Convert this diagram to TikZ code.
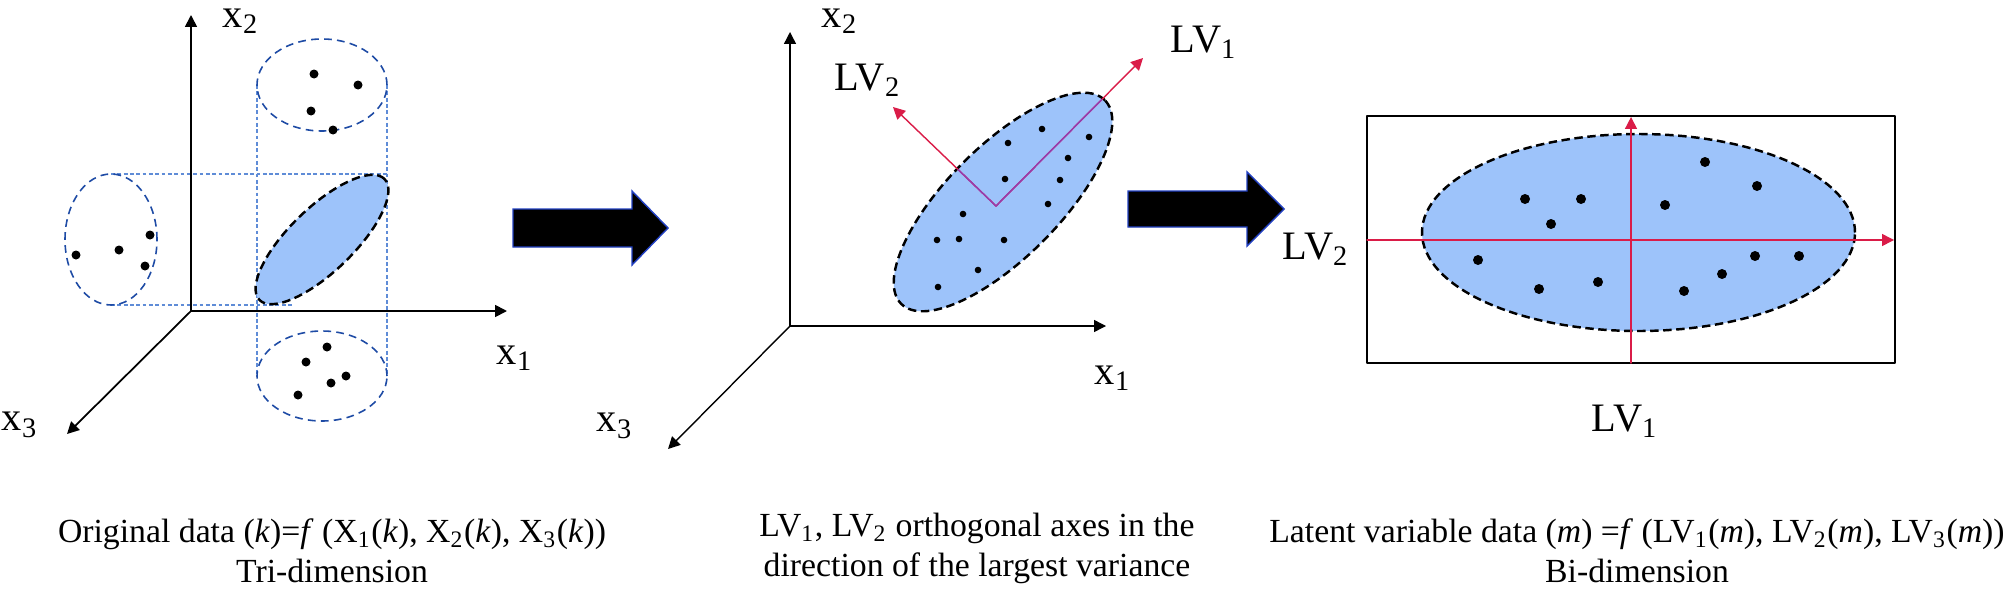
\documentclass[tikz,border=0pt]{standalone}
\usepackage{fontspec}
\setmainfont{Liberation Serif}
\usetikzlibrary{arrows.meta}

\definecolor{cloudblue}{RGB}{157,195,250}
\definecolor{shadeblue}{RGB}{30,75,165}
\definecolor{projblue}{RGB}{95,140,215}
\definecolor{lvred}{RGB}{218,28,72}
\definecolor{lvpurple}{RGB}{150,60,175}
\definecolor{edgeblue}{RGB}{35,65,195}

\begin{document}
\begin{tikzpicture}[
		x=0.1mm, y=-0.1mm,
		>={Triangle[length=3.4pt,width=3.4pt]},
		line cap=round,
		line join=round,
		axis/.style={->,line width=0.5pt},
		cloud/.style={fill=cloudblue,draw=black,line width=0.7pt,line cap=butt,dash pattern=on 2.4pt off 1.3pt},
		shade/.style={draw=shadeblue,line width=0.45pt,line cap=butt,dash pattern=on 2.2pt off 1.5pt},
		proj/.style={draw=projblue,line width=0.3pt,line cap=butt,dash pattern=on 1.1pt off 0.7pt},
		lv/.style={->,lvred,line width=0.4pt},
		lbl/.style={font=\fontsize{11.5}{13}\selectfont,inner sep=0pt},
		captext/.style={font=\fontsize{9.6}{11.4}\selectfont,align=center,inner sep=0pt},
		bigarrow/.style={fill=black,draw=edgeblue,line width=0.4pt,line join=miter}
		]
		\path[use as bounding box,fill=white] (0,0) rectangle (2008,594);

		% original data, three axes
		\coordinate (o1) at (191,311);
		\coordinate (o1x1) at (507,311);
		\coordinate (o1x2) at (191,15);
		\coordinate (o1x3) at (67,434);
		\draw[proj] (111,174) -- (387,174);
		\draw[proj] (111,305) -- (292,305);
		\draw[proj] (257,85) -- (257,376);
		\draw[proj] (387,85) -- (387,376);
		\draw[shade] (322,85) ellipse [x radius=6.5mm, y radius=4.6mm];
		\draw[shade] (111,239.5) ellipse [x radius=4.6mm, y radius=6.55mm];
		\draw[shade] (322,376) ellipse [x radius=6.5mm, y radius=4.5mm];
		\draw[cloud,rotate around={44:(322,239.5)}] (322,239.5) ellipse [x radius=8.7mm, y radius=3.2mm];
		\foreach \p in {(314,74),(358,85),(311,111),(333,130),(76,255),(119,250),(150,235),(145,266),(327,347),(306,362),(346,376),(331,383),(298,395)}
			\fill \p circle [radius=0.45mm];
		\draw[axis] (o1) -- (o1x1);
		\draw[axis] (o1) -- (o1x2);
		\draw[axis] (o1) -- (o1x3);
		\node[lbl] (lx1a) at (515,358) {x\textsubscript{1}};
		\node[lbl] (lx2a) at (241,21) {x\textsubscript{2}};
		\node[lbl] (lx3a) at (20,425) {x\textsubscript{3}};

		% first big arrow
		\draw[bigarrow] (513,209) -- (632,209) -- (632,191) -- (668,228) -- (632,265) -- (632,247) -- (513,247) -- cycle;

		% latent axes inside the cloud
		\coordinate (o2) at (790,326);
		\coordinate (o2x1) at (1106,326);
		\coordinate (o2x2) at (790,32);
		\coordinate (o2x3) at (668,449);
		\coordinate (v) at (996,206);
		\coordinate (lv1tip) at (1143,58);
		\coordinate (lv2tip) at (893,107);
		\draw[axis,line width=0.4pt] (o2) -- (o2x1);
		\draw[axis,line width=0.4pt] (o2) -- (o2x2);
		\draw[axis,line width=0.4pt] (o2) -- (o2x3);
		\draw[cloud,rotate around={45:(1003,202)}] (1003,202) ellipse [x radius=14.4mm, y radius=5.6mm];
		\draw[lv] (v) -- (lv1tip);
		\draw[lv] (v) -- (lv2tip);
		\begin{scope}
			\clip[rotate around={45:(1003,202)}] (1003,202) ellipse [x radius=14.3mm, y radius=5.5mm];
			\draw[lvpurple,line width=0.4pt] (v) -- (lv1tip);
			\draw[lvpurple,line width=0.4pt] (v) -- (lv2tip);
		\end{scope}
		\foreach \p in {(1042,129),(1008,143),(1089,137),(1068,158),(1005,179),(1060,180),(1048,204),(963,214),(937,240),(959,239),(1004,240),(978,270),(938,287)}
			\fill \p circle [radius=0.33mm];
		\node[lbl] (lx1b) at (1113,378) {x\textsubscript{1}};
		\node[lbl] (lx2b) at (840,21) {x\textsubscript{2}};
		\node[lbl] (lx3b) at (615,426) {x\textsubscript{3}};
		\node[lbl] (llv1b) at (1204,42) {LV\textsubscript{1}};
		\node[lbl] (llv2b) at (868,80) {LV\textsubscript{2}};

		% second big arrow
		\draw[bigarrow] (1128,191) -- (1247,191) -- (1247,172) -- (1284,209) -- (1247,246) -- (1247,227) -- (1128,227) -- cycle;

		% bi-dimension plane
		\draw[line width=0.65pt] (1367,116) rectangle (1895,363);
		\draw[cloud] (1638.5,232.5) ellipse [x radius=21.65mm, y radius=9.85mm];
		\draw[lv] (1367,240) -- (1894,240);
		\draw[lv] (1631,363) -- (1631,117);
		\foreach \p in {(1705,162),(1757,186),(1525,199),(1581,199),(1665,205),(1551,224),(1478,260),(1755,256),(1799,256),(1722,274),(1598,282),(1539,289),(1684,291)}
			\fill \p circle [radius=0.5mm];
		\node[lbl] (llv2c) at (1316,249) {LV\textsubscript{2}};
		\node[lbl] (llv1c) at (1625,421) {LV\textsubscript{1}};

		% captions
		\node[captext] (cap1) at (332,551) {Original data (\textit{k})=\textit{f} (X\textsubscript{1}(\textit{k}), X\textsubscript{2}(\textit{k}), X\textsubscript{3}(\textit{k}))\\Tri-dimension};
		\node[captext] (cap2) at (977,548) {LV\textsubscript{1}, LV\textsubscript{2} orthogonal axes in the\\direction of the largest variance};
		\node[captext] (cap3) at (1637,551) {Latent variable data (\textit{m}) =\textit{f} (LV\textsubscript{1}(\textit{m}), LV\textsubscript{2}(\textit{m}), LV\textsubscript{3}(\textit{m}))\\Bi-dimension};
		\end{tikzpicture}
\end{document}
